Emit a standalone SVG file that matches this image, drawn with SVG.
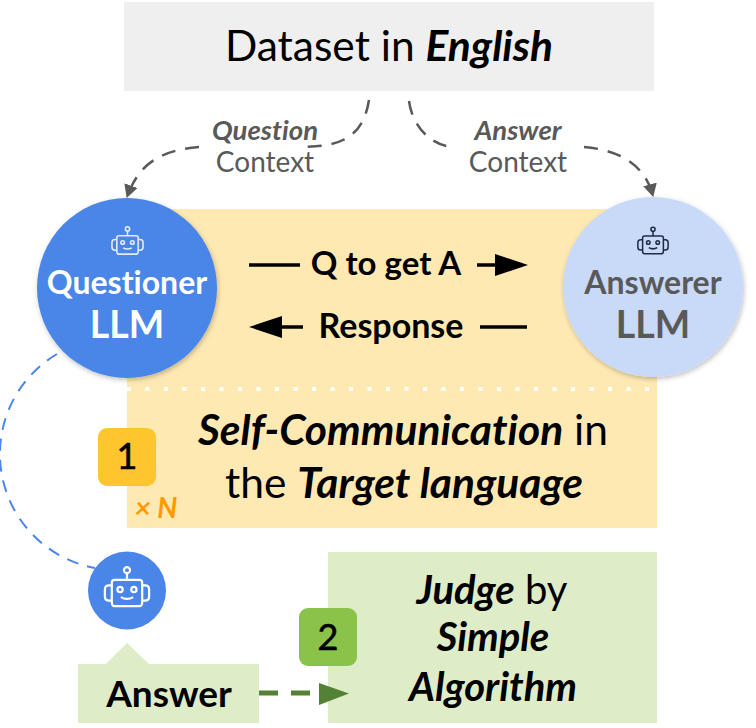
<svg xmlns="http://www.w3.org/2000/svg" width="756" height="728" viewBox="0 0 756 728">
<style>
text{font-family:Lato,"Liberation Sans",sans-serif;text-anchor:middle;font-variant-ligatures:none}
.big{font-size:42.500px;fill:#000}
.jd{font-size:40px;fill:#000}
.lab{font-size:34px;fill:#000;font-weight:700}
.ctx{font-size:28px;fill:#595959}
.nm{font-size:32px;font-weight:700}
.llm{font-size:37.500px;font-weight:700}
.i{font-style:italic;font-weight:700}
.num{font-size:36px;fill:#000;stroke:#000;stroke-width:.6}
.gd{fill:none;stroke:#595959;stroke-width:2.500;stroke-dasharray:14 10}
.bd{fill:none;stroke:#4a86e8;stroke-width:2;stroke-dasharray:12 9}
.ar{stroke:#000;stroke-width:3.500;fill:none}
.rb{fill:none;stroke-width:1.600}
</style>
<defs>
<filter id="sh" x="-10%" y="-10%" width="125%" height="125%"><feDropShadow dx="1" dy="2" stdDeviation="2.500" flood-color="#000" flood-opacity="0.25"/></filter>
<symbol id="robot" viewBox="0 0 36 34" overflow="visible">
<circle cx="18" cy="3" r="2.200"/>
<path d="M18 5.200V10M9 10H27Q29 10 29 12V26Q29 29 27 29H9Q7 29 7 26V12Q7 10 9 10ZM7 14H5Q2 14 2 17V22Q2 25 5 25H7M29 14H31Q34 14 34 17V22Q34 25 31 25H29"/>
<circle cx="13" cy="17" r="1.900"/><circle cx="23" cy="17" r="1.900"/>
<path d="M13.500 22.500Q18 25 22.500 22.500"/>
</symbol>
<marker id="ag" markerUnits="userSpaceOnUse" markerWidth="14" markerHeight="16" refX="12" refY="7" orient="auto"><path d="M0 0L13 7L0 14Z" fill="#595959"/></marker>
</defs>
<g id="dataset"><rect x="124" y="2" width="530" height="89" fill="#efefef"/>
<text x="389" y="61" class="big">Dataset in <tspan class="i">English</tspan></text></g>
<g id="self-communication"><rect x="127" y="209" width="530" height="319" fill="#ffe9b3"/>
<line x1="127" y1="389" x2="657" y2="389" stroke="#fff" stroke-width="4" stroke-dasharray="4 14.500"/>
<text x="403" y="445" class="big"><tspan class="i">Self-Communication</tspan> in</text>
<text x="404" y="498" class="big">the <tspan class="i">Target language</tspan></text>
<rect x="98" y="428" width="58" height="58" rx="9" fill="#fdc52e"/>
<text x="127" y="469" class="num">1</text>
<text x="156" y="518" font-size="28" fill="#ff9900" class="i">× N</text></g>
<g id="judge"><rect x="328" y="552" width="329" height="171" fill="#deecc8"/>
<text x="492" y="604" class="jd"><tspan class="i">Judge</tspan> by</text>
<text x="493" y="651" class="jd i">Simple</text>
<text x="493" y="701" class="jd i">Algorithm</text>
<rect x="299" y="608" width="58" height="58" rx="9" fill="#8bc34a"/>
<text x="328" y="650" class="num">2</text></g>
<g id="connectors">
<path class="gd" d="M369 100C362 145 330 146 300 147"/>
<path class="gd" d="M199 147C165 150 140 160 127 197" marker-end="url(#ag)"/>
<path class="gd" d="M409 101C412 125 430 146 454 147"/>
<path class="gd" d="M584 147C620 150 645 165 653 196" marker-end="url(#ag)" stroke-dasharray="2 6 18 8"/>
<path class="bd" d="M57 354A116 116 0 0 0 95 568"/>
<path d="M249 265H300M477 265H500" class="ar"/><path d="M495 254L528 265L495 276Z"/>
<path d="M480 327H527M303 327H276" class="ar"/><path d="M249 327L282 316V338Z"/>
<path d="M259 693H320" fill="none" stroke="#548235" stroke-width="5" stroke-dasharray="19 13"/><path d="M319 683L349 693.500L319 705Z" fill="#548235"/>
</g>
<g id="questioner"><circle cx="127" cy="288" r="90" fill="#4a86e8" filter="url(#sh)"/>
<use href="#robot" x="110" y="226" width="35" height="33" class="rb" stroke="#e3ecfb"/>
<text x="127" y="294" class="nm" fill="#fff">Questioner</text>
<text x="127" y="338" class="llm" fill="#fff">LLM</text></g>
<g id="answerer"><circle cx="653" cy="287" r="90" fill="#c9daf8" filter="url(#sh)"/>
<use href="#robot" x="636" y="226" width="34" height="33" class="rb" stroke="#1f2a44"/>
<text x="653" y="294" class="nm" fill="#595959">Answerer</text>
<text x="653" y="338" class="llm" fill="#595959">LLM</text></g>
<g id="context-q"><text x="265" y="140" class="ctx i" style="font-size:27.500px">Question</text><text x="265" y="172" class="ctx">Context</text></g>
<g id="context-a"><text x="518" y="140" class="ctx i" style="font-size:27.500px">Answer</text><text x="518" y="172" class="ctx">Context</text></g>
<g id="q-label"><text x="386" y="275" class="lab" style="font-size:33px">Q to get A</text></g>
<g id="r-label"><text x="391" y="338" class="lab">Response</text></g>
<g id="robot-small"><circle cx="127" cy="590.500" r="39" fill="#4a86e8"/>
<use href="#robot" x="102" y="566" width="50" height="47" class="rb" stroke="#fff"/></g>
<g id="answer"><path d="M78 664H106L127 643L149 664H259V723H78Z" fill="#deecc8"/>
<text x="169" y="707" font-size="37" font-weight="700" fill="#000">Answer</text></g>
</svg>
